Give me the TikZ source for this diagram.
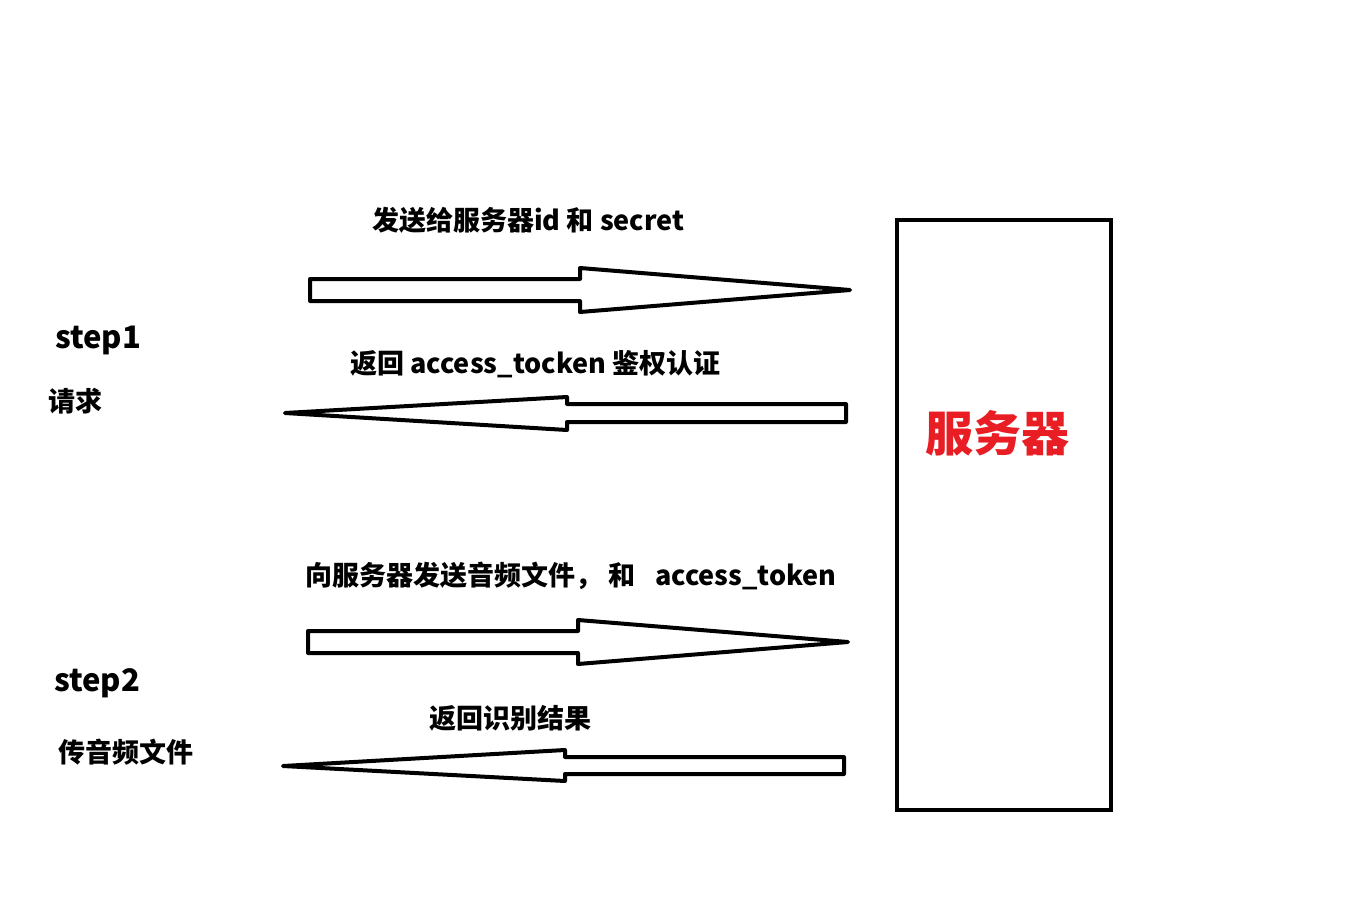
\documentclass[tikz,border=0pt]{standalone}
\usepackage{fontspec}
\setmainfont{Noto Sans CJK SC}
\definecolor{serverred}{RGB}{232,30,36}
\begin{document}
\begin{tikzpicture}[x=1pt,y=-1pt,
  arrowshape/.style={draw=black,line width=4pt,line join=round,fill=white},
  lbl/.style={anchor=west,inner sep=0pt,font=\fontsize{27}{30}\selectfont\bfseries},
  steplbl/.style={anchor=west,inner sep=0pt,font=\fontsize{31}{34}\selectfont\bfseries},
  serverbox/.style={draw=black,line width=4pt,fill=white}]
\useasboundingbox (0,0) rectangle (1346,910);
% server box
\node[serverbox,minimum width=214pt,minimum height=590pt,inner sep=0pt] (server) at (1004,515) {};
\node[font=\fontsize{48}{52}\selectfont\bfseries,text=serverred,inner sep=0pt] (servertxt) at (997,433) {服务器};
% arrow 1 (right)
\draw[arrowshape] (310,279) -- (580,279) -- (580,268) -- (850,290) -- (580,312) -- (580,301) -- (310,301) -- cycle;
% arrow 2 (left)
\draw[arrowshape] (846,404) -- (567,404) -- (567,397) -- (285,413) -- (567,430) -- (567,422) -- (846,422) -- cycle;
% arrow 3 (right)
\draw[arrowshape] (308,631) -- (578,631) -- (578,620) -- (848,642) -- (578,664) -- (578,653) -- (308,653) -- cycle;
% arrow 4 (left)
\draw[arrowshape] (844,757) -- (565,757) -- (565,750) -- (283,766) -- (565,781) -- (565,774) -- (844,774) -- cycle;
% labels
\node[lbl] (l1) at (372,220) {发送给服务器id 和 secret};
\node[lbl] (l2) at (350,364) {返回 access\_tocken 鉴权认证};
\node[lbl] (l3) at (305,576) {向服务器发送音频文件，\hspace{6pt}和\hspace{20pt}access\_token};
\node[lbl] (l4) at (429,718) {返回识别结果};
\node[steplbl] (s1) at (55,340) {step1};
\node[lbl] (r1) at (48,401) {请求};
\node[steplbl] (s2) at (54,683) {step2};
\node[lbl] (r2) at (58,752) {传音频文件};
\end{tikzpicture}
\end{document}
